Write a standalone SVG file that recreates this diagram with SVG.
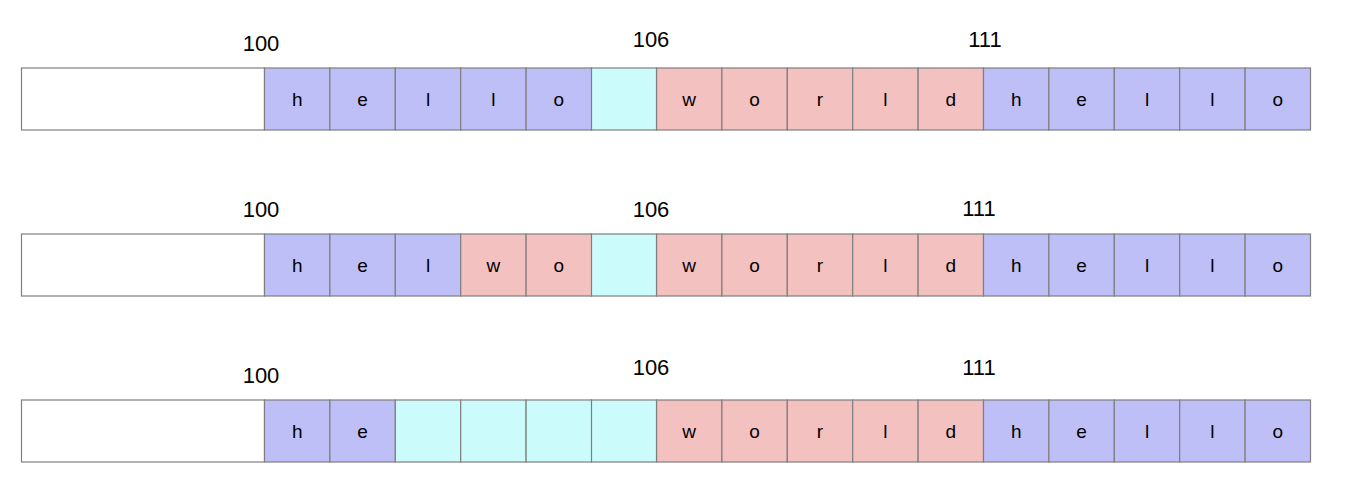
<svg xmlns="http://www.w3.org/2000/svg" width="1358" height="502" viewBox="0 0 1358 502">
<style>
rect{stroke:#7f7f7f;stroke-width:1.2}
.w{fill:#fff}.b{fill:#bfbff8}.c{fill:#ccfbfc}.p{fill:#f4c1c1}
text{font-family:"Liberation Sans",Arial,sans-serif;font-size:19px;fill:#000;text-anchor:middle}
.n{font-size:22px}
</style>
<defs>
<g id="tail">
<rect class="p" x="656.5" y="0" width="65.4" height="62"/><text x="689.2" y="38">w</text>
<rect class="p" x="721.9" y="0" width="65.4" height="62"/><text x="754.6" y="38">o</text>
<rect class="p" x="787.3" y="0" width="65.4" height="62"/><text x="820" y="38">r</text>
<rect class="p" x="852.7" y="0" width="65.4" height="62"/><text x="885.4" y="38">l</text>
<rect class="p" x="918.1" y="0" width="65.4" height="62"/><text x="950.8" y="38">d</text>
<rect class="b" x="983.5" y="0" width="65.4" height="62"/><text x="1016.2" y="38">h</text>
<rect class="b" x="1048.9" y="0" width="65.4" height="62"/><text x="1081.6" y="38">e</text>
<rect class="b" x="1114.3" y="0" width="65.4" height="62"/><text x="1147" y="38">l</text>
<rect class="b" x="1179.7" y="0" width="65.4" height="62"/><text x="1212.4" y="38">l</text>
<rect class="b" x="1245.1" y="0" width="65.4" height="62"/><text x="1277.8" y="38">o</text>
<rect class="w" x="21.5" y="0" width="243" height="62"/>
<rect class="c" x="591.1" y="0" width="65.4" height="62"/>
</g>
</defs>
<g id="row1" transform="translate(0,68)">
<use href="#tail"/>
<rect class="b" x="264.5" y="0" width="65.4" height="62"/><text x="297.2" y="38">h</text>
<rect class="b" x="329.9" y="0" width="65.4" height="62"/><text x="362.6" y="38">e</text>
<rect class="b" x="395.3" y="0" width="65.4" height="62"/><text x="428" y="38">l</text>
<rect class="b" x="460.7" y="0" width="65.4" height="62"/><text x="493.4" y="38">l</text>
<rect class="b" x="526.1" y="0" width="65.4" height="62"/><text x="558.8" y="38">o</text>
<text class="n" x="261" y="-17">100</text><text class="n" x="651" y="-21">106</text><text class="n" x="985" y="-21">111</text>
</g>
<g id="row2" transform="translate(0,234)">
<use href="#tail"/>
<rect class="b" x="264.5" y="0" width="65.4" height="62"/><text x="297.2" y="38">h</text>
<rect class="b" x="329.9" y="0" width="65.4" height="62"/><text x="362.6" y="38">e</text>
<rect class="b" x="395.3" y="0" width="65.4" height="62"/><text x="428" y="38">l</text>
<rect class="p" x="460.7" y="0" width="65.4" height="62"/><text x="493.4" y="38">w</text>
<rect class="p" x="526.1" y="0" width="65.4" height="62"/><text x="558.8" y="38">o</text>
<text class="n" x="261" y="-17">100</text><text class="n" x="651" y="-17">106</text><text class="n" x="979" y="-18">111</text>
</g>
<g id="row3" transform="translate(0,400)">
<use href="#tail"/>
<rect class="b" x="264.5" y="0" width="65.4" height="62"/><text x="297.2" y="38">h</text>
<rect class="b" x="329.9" y="0" width="65.4" height="62"/><text x="362.6" y="38">e</text>
<rect class="c" x="395.3" y="0" width="65.4" height="62"/>
<rect class="c" x="460.7" y="0" width="65.4" height="62"/>
<rect class="c" x="526.1" y="0" width="65.4" height="62"/>
<text class="n" x="261" y="-17">100</text><text class="n" x="651" y="-25">106</text><text class="n" x="979" y="-25">111</text>
</g>
<g id="connectors"/>
</svg>
